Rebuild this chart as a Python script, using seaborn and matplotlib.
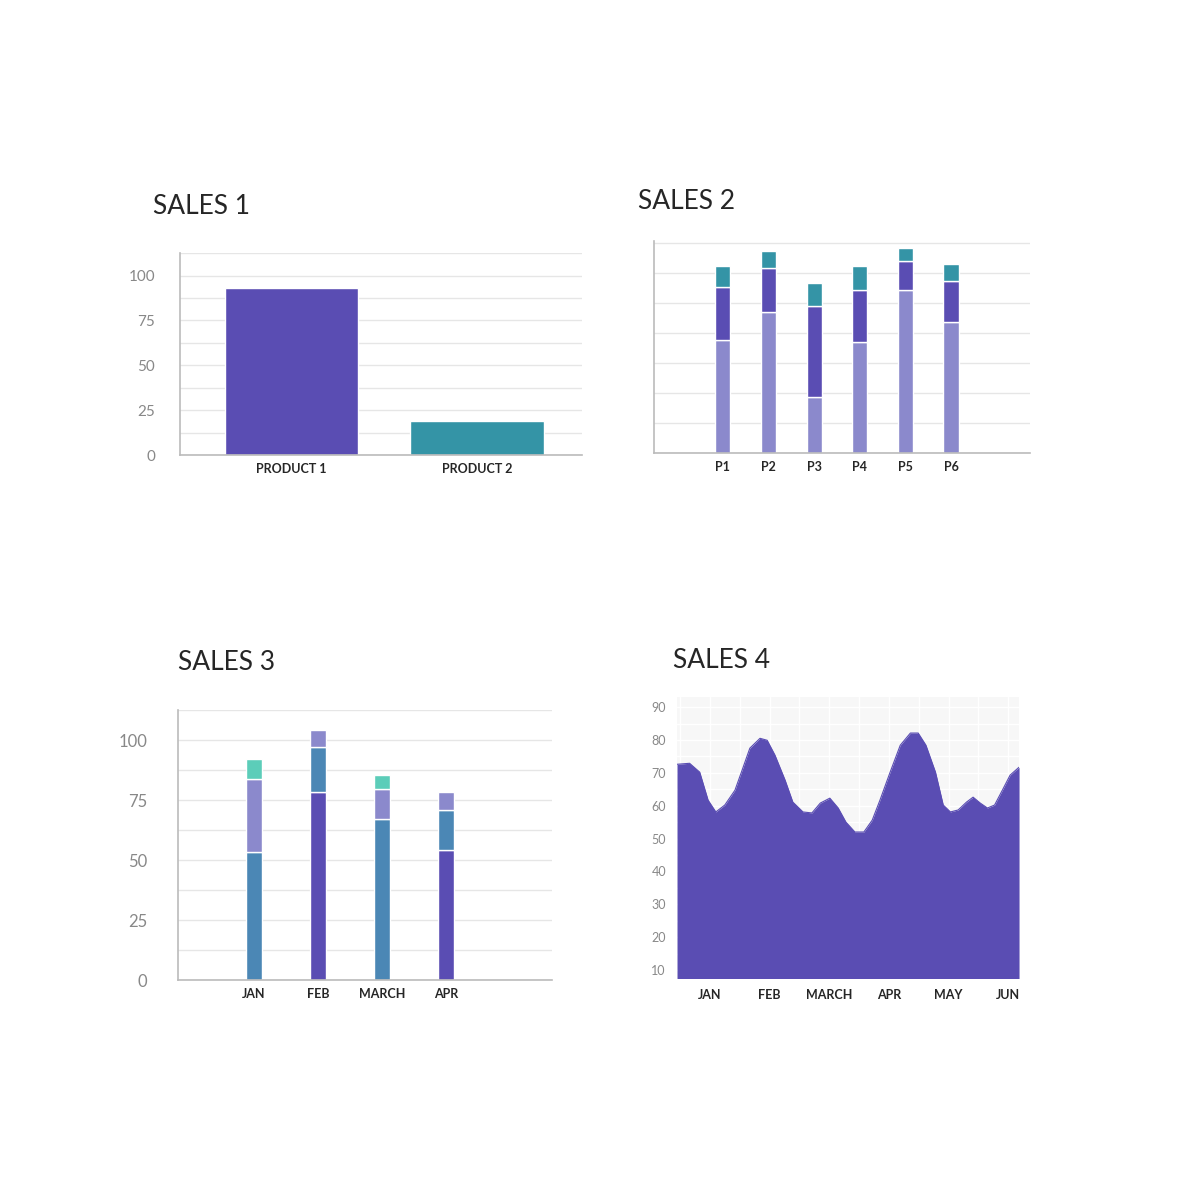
import matplotlib
import matplotlib.pyplot as plt
import seaborn as sns
import numpy as np
import pandas as pd

matplotlib.use('Agg')

# --- data ---
s1_products = ["PRODUCT 1", "PRODUCT 2"]
s1_values = [93, 19]

s2_products = ["P1", "P2", "P3", "P4", "P5", "P6"]
s2_bottom = [37.7, 47.0, 18.7, 37.0, 54.3, 43.7]
s2_middle = [17.6, 14.7, 30.3, 17.3, 9.7, 13.6]
s2_top = [7.0, 5.6, 7.7, 8.0, 4.3, 5.7]

s3_months = ["JAN", "FEB", "MARCH", "APR"]
s3_seg1 = [53.3, 78.3, 67.0, 54.0]
s3_seg2 = [30.4, 18.7, 12.6, 17.0]
s3_seg3 = [8.3, 7.0, 5.8, 7.3]
s3_colors = [["#4B87B5", "#8B89CC", "#5CCDB9"],
             ["#5A4DB3", "#4B87B5", "#8B89CC"],
             ["#4B87B5", "#8B89CC", "#5CCDB9"],
             ["#5A4DB3", "#4B87B5", "#8B89CC"]]

s4_months = ["JAN", "FEB", "MARCH", "APR", "MAY", "JUN"]
s4_x = [-0.55, -0.34, -0.17, -0.03, 0.10, 0.25, 0.42, 0.54, 0.67, 0.84, 0.96,
        1.09, 1.26, 1.39, 1.56, 1.71, 1.85, 2.01, 2.15, 2.28, 2.43, 2.58, 2.72,
        2.85, 3.02, 3.19, 3.36, 3.49, 3.62, 3.78, 3.91, 4.03, 4.16, 4.30, 4.41,
        4.53, 4.65, 4.77, 4.90, 5.03, 5.18]
s4_y = [72.6, 72.9, 70.2, 61.7, 58.1, 60.2, 64.7, 70.8, 77.5, 80.5, 79.9,
        75.4, 67.8, 61.1, 58.1, 57.8, 60.8, 62.3, 59.3, 55.0, 52.0, 52.0, 55.6,
        61.7, 70.2, 78.4, 82.1, 82.1, 78.4, 70.2, 60.2, 58.1, 58.7, 61.1, 62.6,
        60.8, 59.3, 60.2, 64.7, 69.3, 71.7]

PURPLE = "#5A4DB3"
LAV = "#8B89CC"
TEAL = "#3494A6"
SPINE = "#BBBBBB"
GRID = "#E6E6E6"

sns.set_style("white")
plt.rcParams['font.family'] = ['Lato', 'DejaVu Sans']

fig = plt.figure(figsize=(12, 12), dpi=100)


def style(ax, ylabels=True):
    for s in ["top", "right"]:
        ax.spines[s].set_visible(False)
    for s in ["left", "bottom"]:
        ax.spines[s].set_color(SPINE)
        ax.spines[s].set_linewidth(1.2)
    ax.tick_params(axis="y", length=8, color=SPINE, labelcolor="#888888",
                   labelsize=11, direction="out", pad=10)
    ax.tick_params(axis="x", length=0, labelsize=9, pad=6)
    for lab in ax.get_xticklabels():
        lab.set_fontweight("bold")
    ax.set_xlabel("")
    ax.set_ylabel("")
    ax.set_axisbelow(True)


# SALES 1
ax1 = fig.add_axes([0.15, 0.6208, 0.335, 0.1683])
df1 = pd.DataFrame({"product": s1_products, "value": s1_values})
sns.barplot(data=df1, x="product", y="value", hue="product",
            palette=[PURPLE, TEAL], width=0.72, saturation=1, ax=ax1, legend=False)
ax1.set_xlim(-0.6, 1.565)
ax1.set_ylim(0, 112.5)
ax1.set_yticks([0, 25, 50, 75, 100])
ax1.set_yticks(np.arange(0, 113, 12.5), minor=True)
ax1.grid(axis="y", which="both", color=GRID, lw=1)
ax1.tick_params(axis="y", which="minor", length=0)
style(ax1)
fig.text(0.1275, 0.8275, "SALES 1", fontsize=19, va="center")

# SALES 2
ax2 = fig.add_axes([0.545, 0.6225, 0.3133, 0.1767])
x2 = np.arange(len(s2_products))
ax2.bar(x2, s2_bottom, width=0.33, color=LAV)
ax2.bar(x2, s2_middle, width=0.33, bottom=s2_bottom, color=PURPLE)
ax2.bar(x2, s2_top, width=0.33, bottom=np.add(s2_bottom, s2_middle), color=TEAL)
ax2.set_xticks(x2, s2_products)
ax2.set_xlim(-1.51, 5 + 1.73)
ax2.set_ylim(0, 70.7)
ax2.set_yticks([0, 20, 40, 60])
ax2.set_yticks(np.arange(0, 71, 10), minor=True)
ax2.set_yticklabels([])
ax2.grid(axis="y", which="both", color=GRID, lw=1)
ax2.tick_params(axis="y", which="minor", length=0)
style(ax2)
ax2.tick_params(axis="y", length=11)
fig.text(0.532, 0.8317, "SALES 2", fontsize=19, va="center")

# SALES 3
ax3 = fig.add_axes([0.1483, 0.1833, 0.3117, 0.225])
x3 = np.arange(len(s3_months))
b2 = np.add(s3_seg1, s3_seg2)
ax3.bar(x3, s3_seg1, width=0.25, color=[c[0] for c in s3_colors])
ax3.bar(x3, s3_seg2, width=0.25, bottom=s3_seg1, color=[c[1] for c in s3_colors])
ax3.bar(x3, s3_seg3, width=0.25, bottom=b2, color=[c[2] for c in s3_colors])
ax3.set_xticks(x3, s3_months)
ax3.set_xlim(-1.19, 3 + 1.66)
ax3.set_ylim(0, 112.5)
ax3.set_yticks([0, 25, 50, 75, 100])
ax3.set_yticks(np.arange(0, 113, 12.5), minor=True)
ax3.grid(axis="y", which="both", color=GRID, lw=1)
ax3.tick_params(axis="y", which="minor", length=0)
style(ax3)
ax3.tick_params(axis="y", length=12, labelsize=12)
fig.text(0.1483, 0.4475, "SALES 3", fontsize=19, va="center")

# SALES 4
ax4 = fig.add_axes([0.5642, 0.185, 0.285, 0.234])
ax4.set_facecolor("#F7F7F7")
sns.lineplot(x=s4_x, y=s4_y, color=PURPLE, lw=0.8, ax=ax4)
ax4.fill_between(s4_x, s4_y, 0, color=PURPLE, lw=0)
ax4.set_xlim(s4_x[0], s4_x[-1])
ax4.set_ylim(7.6, 93)
ax4.set_xticks(range(len(s4_months)), s4_months)
ax4.set_yticks(range(10, 91, 10))
ax4.set_xticks(np.arange(-0.5, 5.3, 0.5), minor=True)
ax4.set_yticks(np.arange(10, 93, 5), minor=True)
ax4.grid(which="both", color="white", lw=1)
for s in ax4.spines.values():
    s.set_visible(False)
ax4.tick_params(which="both", length=0)
ax4.tick_params(axis="y", labelcolor="#888888", labelsize=9, pad=8)
ax4.tick_params(axis="x", labelsize=9, pad=8)
for lab in ax4.get_xticklabels():
    lab.set_fontweight("bold")
ax4.set_axisbelow(True)
fig.text(0.5608, 0.45, "SALES 4", fontsize=19, va="center")

plt.savefig("out.png", dpi=100, facecolor="white")
